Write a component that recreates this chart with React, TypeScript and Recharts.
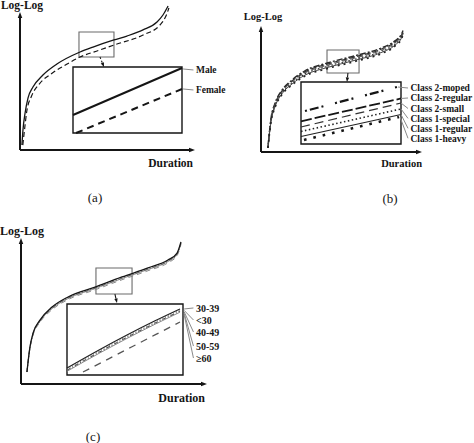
import { LineChart, Line, XAxis, YAxis, ReferenceLine, ReferenceArea } from 'recharts'

const FONT = '"Liberation Serif", "Times New Roman", serif'
const INK = '#151515'

// (a) gender – main curves (duration 0-100, log-log 0-100)
const aMaleX = [1.1, 1.7, 2.9, 4.6, 7.4, 13.1, 21.1, 34.3, 41.7, 53.7, 61.1, 70.3, 78.3, 81.7, 84.0, 84.6]
const aMaleY = [3.4, 13.8, 25.5, 35.9, 43.4, 51.7, 59.3, 67.6, 71.0, 75.9, 78.6, 82.8, 88.3, 93.1, 97.9, 99.3]
const aFemaleX = [1.6, 2.7, 3.8, 6.6, 11.0, 18.5, 26.9, 34.3, 45.7, 53.7, 70.3, 80.0, 83.4, 85.1]
const aFemaleY = [3.4, 15.2, 26.2, 37.2, 45.5, 53.1, 59.3, 64.1, 69.0, 72.4, 79.3, 86.2, 92.4, 97.9]
// (a) zoomed window
const iaMaleX = [0, 100]
const iaMaleY = [27.3, 98.5]
const iaFemaleX = [2.8, 100]
const iaFemaleY = [0, 66.7]
const aLabels = ['Male', 'Female']
const aLeadFrom = [97, 66.7]
const aLeadTo = [95.5, 65.2]

// (b) license class – main curves share one duration grid
const bX = [4.3, 6.2, 8.7, 13.0, 19.3, 27.3, 41.6, 58.4, 75.2, 83.2, 87.6, 88.2]
const bMoped = [3.2, 26.6, 38.7, 49.0, 57.2, 64.4, 70.8, 76.4, 82.8, 88.2, 94.4, 96.4]
const bReg2 = [3.2, 26.0, 38.0, 48.3, 56.4, 63.6, 69.9, 75.5, 81.9, 87.4, 93.7, 95.8]
const bSmall = [3.2, 25.4, 37.3, 47.6, 55.6, 62.7, 69.0, 74.6, 81.0, 86.5, 92.9, 95.2]
const bSpecial = [3.2, 24.8, 36.6, 46.9, 54.8, 61.9, 68.1, 73.7, 80.1, 85.7, 92.2, 94.6]
const bReg1 = [3.2, 24.2, 35.9, 46.2, 54.0, 61.0, 67.2, 72.8, 79.2, 84.8, 91.4, 94.0]
const bHeavy = [3.2, 23.6, 35.2, 45.5, 53.2, 60.2, 66.3, 71.9, 78.3, 84.0, 90.7, 93.4]
// (b) zoomed window
const ibMopedX = [4, 96]
const ibMopedY = [53.2, 91.9]
const ibReg2X = [0, 100]
const ibReg2Y = [36.6, 73.4]
const ibSmallX = [0, 100]
const ibSmallY = [27.4, 66.1]
const ibSpecialX = [0, 100]
const ibSpecialY = [20.2, 56.5]
const ibReg1X = [0, 100]
const ibReg1Y = [12.1, 47.6]
const ibHeavyX = [3, 98]
const ibHeavyY = [6.5, 43.5]
const bLabels = ['Class 2-moped', 'Class 2-regular', 'Class 2-small', 'Class 1-special', 'Class 1-regular', 'Class 1-heavy']
const bLeadFromX = [97, 100, 100, 100, 100, 99]
const bLeadFrom = [91.9, 73.4, 66.1, 56.5, 47.6, 43.5]
const bLeadTo = [90.3, 74.2, 57.3, 41.3, 25.3, 9.2]

// (c) age group – main curves
const cX = [3.2, 4.8, 6.5, 10.2, 16.7, 25.3, 39.8, 54.3, 68.3, 79.0, 83.9, 86.0]
const c3039 = [8.2, 25.3, 34.9, 43.8, 52.7, 59.6, 66.4, 73.3, 79.5, 84.9, 89.7, 97.3]
const cU30 = [8.2, 25.0, 34.6, 43.4, 52.3, 59.2, 66.0, 72.9, 79.1, 84.5, 89.3, 96.9]
const c4049 = [8.2, 24.8, 34.3, 43.1, 51.9, 58.8, 65.6, 72.5, 78.7, 84.1, 88.9, 96.5]
const c5059 = [8.2, 24.6, 34.0, 42.8, 51.6, 58.5, 65.3, 72.2, 78.4, 83.8, 88.6, 96.2]
const c60 = [8.2, 24.2, 33.5, 42.2, 50.9, 57.8, 64.5, 71.4, 77.6, 83.0, 87.9, 95.6]
// (c) zoomed window
const icX = [0, 28.4, 51.7, 75.9, 97.4]
const ic3039 = [9.9, 36.0, 56.3, 76.3, 93.0]
const icU30 = [8.3, 34.4, 54.7, 74.7, 91.5]
const ic4049 = [6.7, 32.8, 53.1, 73.1, 90.0]
const ic5059 = [5.2, 31.2, 51.5, 71.5, 88.5]
const ic60X = [13.8, 55.6, 97.4]
const ic60 = [4.2, 39.4, 74.6]
const cLabels = ['30-39', '<30', '40-49', '50-59', '≥60']
const cLeadFrom = [93, 91, 89, 87, 85]
const cLeadTo = [94.4, 77.5, 60.6, 40.8, 23.9]

type Series = { x: number[]; y: number[]; stroke: string; width: number; dash?: string }
type Caption = { text: string; dx: number; dy: number; anchor: 'start' | 'middle' | 'end'; size: number }
type Margin = { top: number; right: number; bottom: number; left: number }

const rows = (xs: number[], ys: number[]) => xs.map((x, i) => ({ x, y: ys[i] }))

// line with a filled arrow head at its second point, plus optional captions
const arrow = (head: number, width: number, dash?: string, caps: Caption[] = []) => (p: any) => {
  const { x1, y1, x2, y2 } = p
  const a = Math.atan2(y2 - y1, x2 - x1)
  const c = Math.cos(a)
  const s = Math.sin(a)
  const bx = x2 - head * c
  const by = y2 - head * s
  const w = head * 0.38
  return (
    <g>
      <line x1={x1} y1={y1} x2={bx} y2={by} stroke={INK} strokeWidth={width} strokeDasharray={dash} />
      <polygon points={`${x2},${y2} ${bx - w * s},${by + w * c} ${bx + w * s},${by - w * c}`} fill={INK} />
      {caps.map((t) => (
        <text key={t.text} x={x2 + t.dx} y={y2 + t.dy} textAnchor={t.anchor} fontSize={t.size}
          fontWeight="bold" fontFamily={FONT} fill={INK}>
          {t.text}
        </text>
      ))}
    </g>
  )
}

const leader = (text: string, size: number) => (p: any) => (
  <g>
    <line x1={p.x1} y1={p.y1} x2={p.x2} y2={p.y2} stroke="#8a8a8a" strokeWidth={1} />
    <text x={p.x2 + 2.5} y={p.y2} dy="0.36em" fontSize={size} fontWeight="bold" fontFamily={FONT} fill={INK}>
      {text}
    </text>
  </g>
)

interface MainProps {
  pos: [number, number, number, number]
  margin: Margin
  series: Series[]
  box: [number, number, number, number]
  pointer: [number, number, number, number]
  pointerDash?: string
  yTop: number
  size: number
  yCap: [number, number]
  xCap: [number, number]
}

function MainChart({ pos, margin, series, box, pointer, pointerDash, yTop, size, yCap, xCap }: MainProps) {
  return (
    <div style={{ position: 'absolute', left: pos[0], top: pos[1] }}>
      <LineChart width={pos[2]} height={pos[3]} margin={margin}>
        <XAxis type="number" dataKey="x" domain={[0, 100]} hide />
        <YAxis type="number" dataKey="y" domain={[0, 100]} hide />
        {series.map((s, i) => (
          <Line key={i} data={rows(s.x, s.y)} dataKey="y" type="monotone" stroke={s.stroke}
            strokeWidth={s.width} strokeDasharray={s.dash} dot={false} activeDot={false}
            isAnimationActive={false} />
        ))}
        <ReferenceArea x1={box[0]} x2={box[1]} y1={box[2]} y2={box[3]} fill="none" stroke="#6b6b6b"
          strokeWidth={1.1} ifOverflow="visible" />
        <ReferenceLine segment={[{ x: 0, y: 0 }, { x: 100, y: 0 }]} ifOverflow="visible"
          shape={arrow(6, 2, undefined, [{ text: 'Duration', dx: xCap[0], dy: xCap[1], anchor: 'end', size }])} />
        <ReferenceLine segment={[{ x: 0, y: 0 }, { x: 0, y: yTop }]} ifOverflow="visible"
          shape={arrow(6, 2, undefined, [{ text: 'Log-Log', dx: yCap[0], dy: yCap[1], anchor: 'middle', size }])} />
        <ReferenceLine segment={[{ x: pointer[0], y: pointer[1] }, { x: pointer[2], y: pointer[3] }]}
          ifOverflow="visible" shape={arrow(4.5, 1.1, pointerDash)} />
      </LineChart>
    </div>
  )
}

interface InsetProps {
  pos: [number, number, number, number]
  margin: Margin
  series: Series[]
  labels: string[]
  leadFromX: number[]
  leadFrom: number[]
  leadToX: number
  leadTo: number[]
  size: number
}

function InsetChart({ pos, margin, series, labels, leadFromX, leadFrom, leadToX, leadTo, size }: InsetProps) {
  return (
    <div style={{ position: 'absolute', left: pos[0], top: pos[1] }}>
      <LineChart width={pos[2]} height={pos[3]} margin={margin}>
        <XAxis type="number" dataKey="x" domain={[0, 100]} hide />
        <YAxis type="number" dataKey="y" domain={[0, 100]} hide />
        <ReferenceArea x1={0} x2={100} y1={0} y2={100} fill="#fff" fillOpacity={1} stroke={INK}
          strokeWidth={1.4} ifOverflow="visible" />
        {series.map((s, i) => (
          <Line key={i} data={rows(s.x, s.y)} dataKey="y" type="monotone" stroke={s.stroke}
            strokeWidth={s.width} strokeDasharray={s.dash} dot={false} activeDot={false}
            isAnimationActive={false} />
        ))}
        {labels.map((t, i) => (
          <ReferenceLine key={t} ifOverflow="visible"
            segment={[{ x: leadFromX[i], y: leadFrom[i] }, { x: leadToX, y: leadTo[i] }]}
            shape={leader(t, size)} />
        ))}
      </LineChart>
    </div>
  )
}

const caption = (text: string, cx: number, cy: number) => (
  <div style={{ position: 'absolute', left: cx - 20, top: cy - 8, width: 40, lineHeight: '16px',
    textAlign: 'center', fontFamily: FONT, fontSize: 13, color: INK }}>
    {text}
  </div>
)

export default function App() {
  return (
    <div style={{ position: 'absolute', left: 0, top: 0, width: 474, height: 443, background: '#fff', overflow: 'hidden' }}>
      {/* (a) */}
      <MainChart
        pos={[0, 0, 237, 215]}
        margin={{ top: 5, right: 42, bottom: 65, left: 20 }}
        series={[
          { x: aMaleX, y: aMaleY, stroke: INK, width: 1.3 },
          { x: aFemaleX, y: aFemaleY, stroke: INK, width: 1.2, dash: '5 3' },
        ]}
        box={[33.7, 53.7, 64.1, 81.4]}
        pointer={[45.7, 64.1, 48.0, 57.2]}
        pointerDash="2 2"
        yTop={95.2}
        size={11.5}
        yCap={[2, -3]}
        xCap={[-2, 17]}
      />
      <InsetChart
        pos={[71, 60, 166, 80]}
        margin={{ top: 7, right: 55, bottom: 7, left: 2 }}
        series={[
          { x: iaMaleX, y: iaMaleY, stroke: INK, width: 2 },
          { x: iaFemaleX, y: iaFemaleY, stroke: INK, width: 2, dash: '7 5' },
        ]}
        labels={aLabels}
        leadFromX={[101, 101]}
        leadFrom={aLeadFrom}
        leadToX={110.5}
        leadTo={aLeadTo}
        size={9.5}
      />
      {caption('(a)', 95, 198)}

      {/* (b) */}
      <MainChart
        pos={[237, 0, 237, 215]}
        margin={{ top: 26, right: 52, bottom: 63, left: 24 }}
        series={[
          { x: bX, y: bMoped, stroke: '#2a2a2a', width: 1.4, dash: '2 2 6 2' },
          { x: bX, y: bReg2, stroke: '#333', width: 1.2, dash: '6 2' },
          { x: bX, y: bSmall, stroke: '#555', width: 1, dash: '5 3' },
          { x: bX, y: bSpecial, stroke: '#333', width: 1.2, dash: '1.5 2' },
          { x: bX, y: bReg1, stroke: '#444', width: 1 },
          { x: bX, y: bHeavy, stroke: '#222', width: 1.6, dash: '2 4' },
        ]}
        box={[41.0, 60.9, 62.7, 81.0]}
        pointer={[54.0, 62.7, 53.4, 55.6]}
        yTop={100}
        size={10.5}
        yCap={[2, -6]}
        xCap={[0, 15]}
      />
      <InsetChart
        pos={[299, 75, 175, 80]}
        margin={{ top: 7, right: 73, bottom: 11, left: 2 }}
        series={[
          { x: ibMopedX, y: ibMopedY, stroke: INK, width: 2.2, dash: '2 3 9 3 2 12' },
          { x: ibReg2X, y: ibReg2Y, stroke: INK, width: 1.8, dash: '11 3' },
          { x: ibSmallX, y: ibSmallY, stroke: '#333', width: 1.2, dash: '9 5' },
          { x: ibSpecialX, y: ibSpecialY, stroke: '#222', width: 1.6, dash: '1.5 2.5' },
          { x: ibReg1X, y: ibReg1Y, stroke: '#222', width: 1.1 },
          { x: ibHeavyX, y: ibHeavyY, stroke: INK, width: 2.6, dash: '2.6 7' },
        ]}
        labels={bLabels}
        leadFromX={bLeadFromX}
        leadFrom={bLeadFrom}
        leadToX={107}
        leadTo={bLeadTo}
        size={9.5}
      />
      {caption('(b)', 390, 199)}

      {/* (c) */}
      <MainChart
        pos={[0, 220, 237, 223]}
        margin={{ top: 18, right: 30, bottom: 59, left: 21 }}
        series={[
          { x: cX, y: c60, stroke: '#888', width: 1, dash: '5 4' },
          { x: cX, y: c5059, stroke: '#999', width: 1 },
          { x: cX, y: c4049, stroke: '#666', width: 1, dash: '4 2 1 2' },
          { x: cX, y: cU30, stroke: '#777', width: 1, dash: '1 2' },
          { x: cX, y: c3039, stroke: INK, width: 1.3 },
        ]}
        box={[40.3, 59.7, 61.6, 79.5]}
        pointer={[50.5, 61.6, 51.6, 55.5]}
        yTop={100}
        size={12}
        yCap={[1, -3]}
        xCap={[-2, 18]}
      />
      <InsetChart
        pos={[65, 298, 172, 85]}
        margin={{ top: 6, right: 54, bottom: 8, left: 2 }}
        series={[
          { x: ic60X, y: ic60, stroke: '#555', width: 1.3, dash: '7 6' },
          { x: icX, y: ic5059, stroke: '#8a8a8a', width: 1 },
          { x: icX, y: ic4049, stroke: '#555', width: 1.1, dash: '4 2 1 2' },
          { x: icX, y: icU30, stroke: '#777', width: 1, dash: '1 2' },
          { x: icX, y: ic3039, stroke: '#222', width: 1.2 },
        ]}
        labels={cLabels}
        leadFromX={[101, 101, 101, 101, 101]}
        leadFrom={cLeadFrom}
        leadToX={109}
        leadTo={cLeadTo}
        size={10}
      />
      {caption('(c)', 93, 437)}
    </div>
  )
}
